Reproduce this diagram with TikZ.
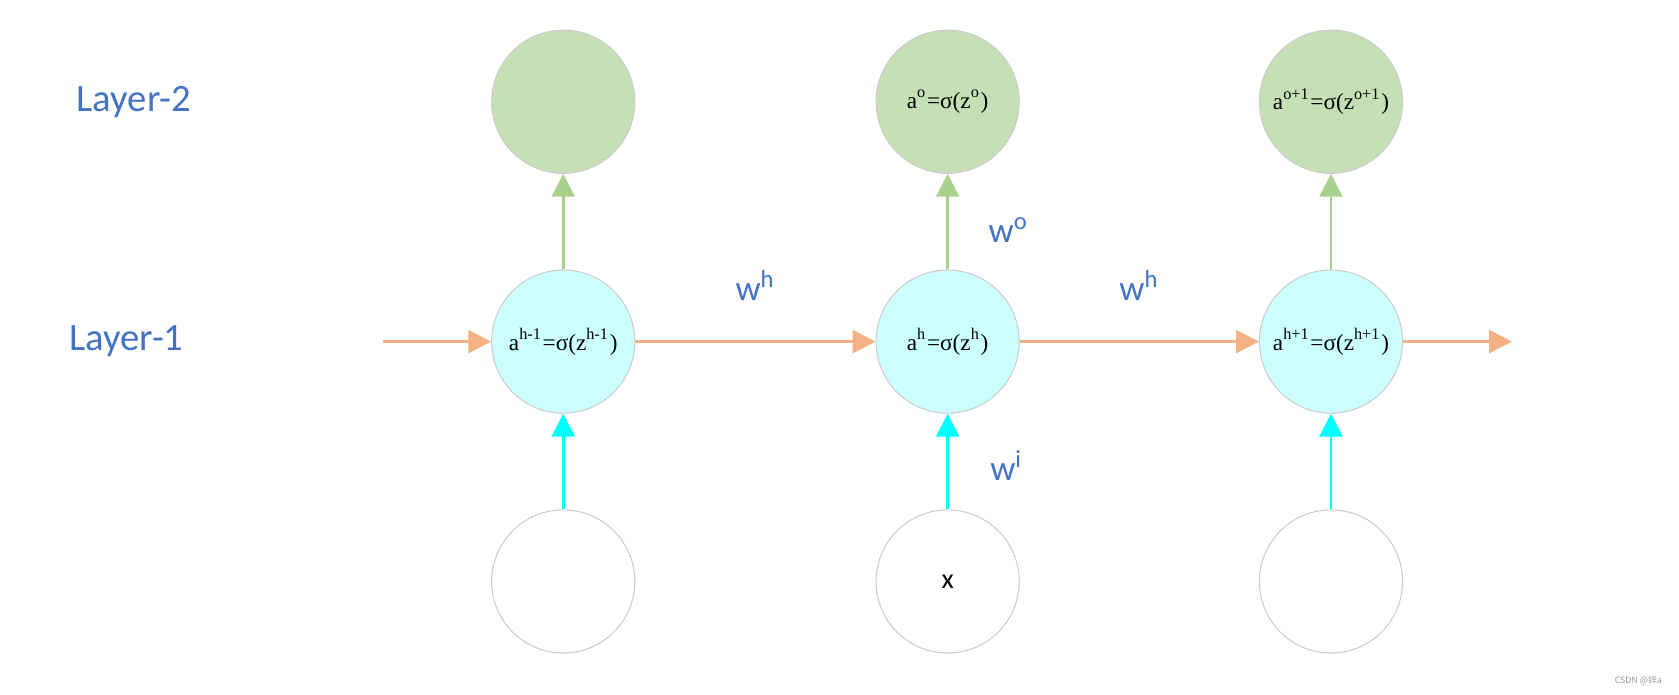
\documentclass[tikz,border=0pt]{standalone}
\usepackage{fontspec}
\setmainfont{Carlito}
\newfontfamily\tms{Liberation Serif}
\newfontfamily\cjk{Noto Sans CJK SC}
\usetikzlibrary{arrows.meta,positioning}
\definecolor{lblue}{HTML}{4472C4}
\definecolor{cellfill}{HTML}{CCFFFF}
\definecolor{outfill}{HTML}{C5E0B4}
\definecolor{recur}{HTML}{F4B183}
\definecolor{outarr}{HTML}{A9D18E}
\definecolor{inarr}{HTML}{00FFFF}
\tikzset{
  unit/.style={circle, draw=black!20, line width=0.3pt, minimum size=1.43cm, inner sep=0pt, font=\tms\fontsize{6.6}{6.6}\selectfont},
  hid/.style={unit, fill=cellfill},
  outu/.style={unit, fill=outfill},
  inu/.style={unit, fill=white, font=\fontsize{8}{8}\selectfont},
  tip/.style={-{Triangle[length=6.5pt,width=6.5pt]}, line width=0.8pt},
  lab/.style={text=lblue, font=\fontsize{10}{10}\selectfont}
}
\begin{document}
\begin{tikzpicture}[x=0.0107cm, y=-0.0107cm]
  \useasboundingbox (0,0) rectangle (1568,649);
  % layer labels
  \node[lab, font=\fontsize{11}{11}\selectfont] (l2) at (125,95) {Layer-2};
  \node[lab, font=\fontsize{11}{11}\selectfont] (l1) at (118,319) {Layer-1};
  % units
  \foreach \n/\x/\hlab/\olab/\ilab in {a/526/{a\textsuperscript{h-1}=σ(z\textsuperscript{h-1})}/{}/{},
      b/885/{a\textsuperscript{h}=σ(z\textsuperscript{h})}/{a\textsuperscript{o}=σ(z\textsuperscript{o})}/x,
      c/1243/{a\textsuperscript{h+1}=σ(z\textsuperscript{h+1})}/{a\textsuperscript{o+1}=σ(z\textsuperscript{o+1})}/{}} {
    \node[outu] (o\n) at (\x,95) {\olab};
    \node[hid] (h\n) at (\x,319) {\hlab};
    \node[inu] (i\n) at (\x,543) {\ilab};
    \draw[tip, draw=outarr, -{Triangle[length=6.5pt,width=6.5pt,fill=outarr]}] (h\n) -- (o\n);
    \draw[tip, draw=inarr] (i\n) -- (h\n);
  }
  % recurrent chain
  \coordinate (start) at (358,319);
  \coordinate (stop) at (1412,319);
  \draw[tip, draw=recur] (start) -- (ha);
  \draw[tip, draw=recur] (ha) -- node[lab, above=8pt] {w\textsuperscript{h}} (hb);
  \draw[tip, draw=recur] (hb) -- node[lab, above=8pt] {w\textsuperscript{h}} (hc);
  \draw[tip, draw=recur] (hc) -- (stop);
  % weights
  \node[lab] (wo) at (942,215) {w\textsuperscript{o}};
  \node[lab] (wi) at (940,435) {w\textsuperscript{i}};
  \node[text=black!40, font=\cjk\fontsize{2.5}{2.5}\selectfont] (mark) at (1530,636) {CSDN @锌a};
\end{tikzpicture}
\end{document}
